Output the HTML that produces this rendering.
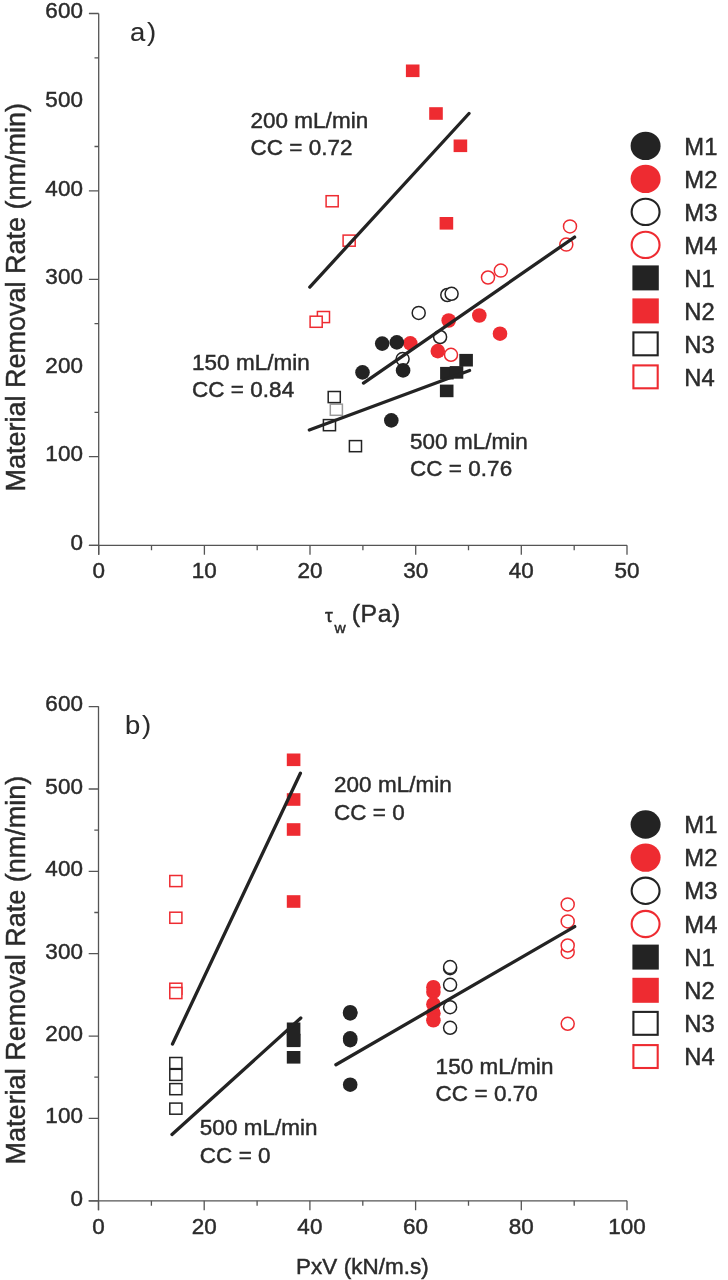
<!DOCTYPE html>
<html><head><meta charset="utf-8"><title>Material Removal Rate</title>
<style>
html,body{margin:0;padding:0;background:#fff;}
body{width:728px;height:1280px;overflow:hidden;}
svg{display:block;filter:blur(0.65px);}
text{font-family:"Liberation Sans",sans-serif;fill:#2b2b2b;stroke:#2b2b2b;stroke-width:0.45px;}
.t{font-size:21.7px;letter-spacing:0.05px;}
.sub{font-size:15px;}
.lg{font-size:23px;letter-spacing:0.2px;}
.pa{font-size:24px;letter-spacing:0.5px;}
.pl{font-size:26.5px;letter-spacing:1.6px;stroke-width:0.1px;}
.yl{font-size:27px;}
</style></head>
<body>
<svg width="728" height="1280" viewBox="0 0 728 1280">
<rect width="728" height="1280" fill="#fff"/>
<path d="M98.7 13.5V554.8M88.9 545.3H627.0" stroke="#555555" stroke-width="1.3" fill="none"/>
<path d="M88.9 545.3H98.7M88.9 456.7H98.7M88.9 279.4H98.7M88.9 190.8H98.7M88.9 13.5H98.7M94.5 412.4H98.7M94.5 323.7H98.7M94.5 146.5H98.7M94.5 57.8H98.7M98.7 545.3V554.8M204.4 545.3V554.8M310.0 545.3V554.8M415.7 545.3V554.8M521.3 545.3V554.8M627.0 545.3V554.8M151.5 545.3V550.3M257.2 545.3V550.3M362.9 545.3V550.3M468.5 545.3V550.3M574.2 545.3V550.3" stroke="#555555" stroke-width="1.3" fill="none"/>
<text transform="translate(83.00 550.10) scale(1.035 1)" class="t" text-anchor="end">0</text>
<text transform="translate(83.00 461.47) scale(1.035 1)" class="t" text-anchor="end">100</text>
<text transform="translate(83.00 372.83) scale(1.035 1)" class="t" text-anchor="end">200</text>
<text transform="translate(83.00 284.20) scale(1.035 1)" class="t" text-anchor="end">300</text>
<text transform="translate(83.00 195.57) scale(1.035 1)" class="t" text-anchor="end">400</text>
<text transform="translate(83.00 106.93) scale(1.035 1)" class="t" text-anchor="end">500</text>
<text transform="translate(83.00 18.30) scale(1.035 1)" class="t" text-anchor="end">600</text>
<text transform="translate(98.70 578.30) scale(1.035 1)" class="t" text-anchor="middle">0</text>
<text transform="translate(204.36 578.30) scale(1.035 1)" class="t" text-anchor="middle">10</text>
<text transform="translate(310.02 578.30) scale(1.035 1)" class="t" text-anchor="middle">20</text>
<text transform="translate(415.68 578.30) scale(1.035 1)" class="t" text-anchor="middle">30</text>
<text transform="translate(521.34 578.30) scale(1.035 1)" class="t" text-anchor="middle">40</text>
<text transform="translate(627.00 578.30) scale(1.035 1)" class="t" text-anchor="middle">50</text>
<rect x="326.1" y="195.7" width="12.1" height="11.1" fill="#fff" stroke="#ee2b31" stroke-width="1.5"/>
<rect x="343.1" y="235.1" width="12.1" height="11.1" fill="#fff" stroke="#ee2b31" stroke-width="1.5"/>
<rect x="317.4" y="311.5" width="12.1" height="11.1" fill="#fff" stroke="#ee2b31" stroke-width="1.5"/>
<rect x="310.1" y="316.2" width="12.1" height="11.1" fill="#fff" stroke="#ee2b31" stroke-width="1.5"/>
<rect x="330.3" y="404.2" width="12.1" height="11.1" fill="#fff" stroke="#9a9a9a" stroke-width="1.5"/>
<rect x="328.2" y="391.5" width="12.1" height="11.1" fill="#fff" stroke="#232323" stroke-width="1.5"/>
<rect x="323.4" y="419.6" width="12.1" height="11.1" fill="#fff" stroke="#232323" stroke-width="1.5"/>
<rect x="349.4" y="440.6" width="12.1" height="11.1" fill="#fff" stroke="#232323" stroke-width="1.5"/>
<rect x="405.9" y="64.5" width="13.6" height="12.6" fill="#ee2b31"/>
<rect x="429.2" y="107.2" width="13.6" height="12.6" fill="#ee2b31"/>
<rect x="453.6" y="139.5" width="13.6" height="12.6" fill="#ee2b31"/>
<rect x="439.6" y="217.0" width="13.6" height="12.6" fill="#ee2b31"/>
<rect x="459.3" y="353.9" width="13.6" height="12.6" fill="#232323"/>
<rect x="440.1" y="366.9" width="13.6" height="12.6" fill="#232323"/>
<rect x="449.7" y="366.1" width="13.6" height="12.6" fill="#232323"/>
<rect x="439.9" y="384.6" width="13.6" height="12.6" fill="#232323"/>
<ellipse cx="451.0" cy="354.8" rx="6.50" ry="6.50" fill="#fff" stroke="#ee2b31" stroke-width="1.5"/>
<ellipse cx="488.0" cy="277.5" rx="6.50" ry="6.50" fill="#fff" stroke="#ee2b31" stroke-width="1.5"/>
<ellipse cx="500.8" cy="270.6" rx="6.50" ry="6.50" fill="#fff" stroke="#ee2b31" stroke-width="1.5"/>
<ellipse cx="566.3" cy="244.6" rx="6.50" ry="6.50" fill="#fff" stroke="#ee2b31" stroke-width="1.5"/>
<ellipse cx="570.0" cy="226.4" rx="6.50" ry="6.50" fill="#fff" stroke="#ee2b31" stroke-width="1.5"/>
<ellipse cx="418.7" cy="312.9" rx="6.50" ry="6.50" fill="#fff" stroke="#232323" stroke-width="1.5"/>
<ellipse cx="447.3" cy="295.0" rx="6.50" ry="6.50" fill="#fff" stroke="#232323" stroke-width="1.5"/>
<ellipse cx="451.6" cy="293.8" rx="6.50" ry="6.50" fill="#fff" stroke="#232323" stroke-width="1.5"/>
<ellipse cx="440.1" cy="337.0" rx="6.50" ry="6.50" fill="#fff" stroke="#232323" stroke-width="1.5"/>
<ellipse cx="402.6" cy="359.1" rx="6.50" ry="6.50" fill="#fff" stroke="#232323" stroke-width="1.5"/>
<ellipse cx="410.3" cy="343.4" rx="7.30" ry="7.30" fill="#ee2b31"/>
<ellipse cx="437.8" cy="351.1" rx="7.30" ry="7.30" fill="#ee2b31"/>
<ellipse cx="448.7" cy="320.5" rx="7.30" ry="7.30" fill="#ee2b31"/>
<ellipse cx="479.3" cy="315.5" rx="7.30" ry="7.30" fill="#ee2b31"/>
<ellipse cx="500.0" cy="333.7" rx="7.30" ry="7.30" fill="#ee2b31"/>
<ellipse cx="362.5" cy="372.4" rx="7.30" ry="7.30" fill="#232323"/>
<ellipse cx="382.2" cy="343.6" rx="7.30" ry="7.30" fill="#232323"/>
<ellipse cx="396.8" cy="342.4" rx="7.30" ry="7.30" fill="#232323"/>
<ellipse cx="403.1" cy="370.4" rx="7.30" ry="7.30" fill="#232323"/>
<ellipse cx="391.3" cy="420.4" rx="7.30" ry="7.30" fill="#232323"/>
<line x1="309.8" y1="287.1" x2="469.0" y2="113.5" stroke="#232323" stroke-width="3.3" stroke-linecap="round"/>
<line x1="363.5" y1="383.1" x2="574.6" y2="237.1" stroke="#232323" stroke-width="3.3" stroke-linecap="round"/>
<line x1="309.3" y1="430.0" x2="469.6" y2="370.5" stroke="#232323" stroke-width="3.3" stroke-linecap="round"/>
<text transform="translate(250.40 128.00) scale(1.035 1)" class="t">200 mL/min</text><text transform="translate(250.40 155.30) scale(1.035 1)" class="t">CC = 0.72</text>
<text transform="translate(192.00 369.80) scale(1.035 1)" class="t">150 mL/min</text><text transform="translate(192.00 397.10) scale(1.035 1)" class="t">CC = 0.84</text>
<text transform="translate(410.00 448.80) scale(1.035 1)" class="t">500 mL/min</text><text transform="translate(410.00 476.10) scale(1.035 1)" class="t">CC = 0.76</text>
<text transform="translate(130.00 41.30) scale(1.035 1)" class="pl">a)</text>
<text transform="translate(24.5 297.2) rotate(-90)" text-anchor="middle" class="yl">Material Removal Rate (nm/min)</text>
<text transform="translate(325.00 622.40) scale(1.035 1)" class="t" style="font-size:19px">τ</text>
<text transform="translate(334.60 632.80) scale(1.035 1)" class="sub">w</text>
<text transform="translate(351.80 622.00) scale(1.035 1)" class="pa">(Pa)</text>
<ellipse cx="645.6" cy="145.9" rx="15.00" ry="14.20" fill="#232323"/>
<text transform="translate(684.20 154.50) scale(1.035 1)" class="lg">M1</text>
<ellipse cx="645.6" cy="178.9" rx="15.00" ry="14.20" fill="#ee2b31"/>
<text transform="translate(684.20 187.50) scale(1.035 1)" class="lg">M2</text>
<ellipse cx="645.6" cy="211.9" rx="13.95" ry="13.15" fill="#fff" stroke="#232323" stroke-width="2.1"/>
<text transform="translate(684.20 220.50) scale(1.035 1)" class="lg">M3</text>
<ellipse cx="645.6" cy="244.9" rx="13.95" ry="13.15" fill="#fff" stroke="#ee2b31" stroke-width="2.1"/>
<text transform="translate(684.20 253.50) scale(1.035 1)" class="lg">M4</text>
<rect x="632.4" y="265.4" width="26.4" height="25.0" fill="#232323"/>
<text transform="translate(684.20 286.50) scale(1.035 1)" class="lg">N1</text>
<rect x="632.4" y="298.4" width="26.4" height="25.0" fill="#ee2b31"/>
<text transform="translate(684.20 319.50) scale(1.035 1)" class="lg">N2</text>
<rect x="633.4" y="332.4" width="24.3" height="22.9" fill="#fff" stroke="#232323" stroke-width="2.1"/>
<text transform="translate(684.20 352.50) scale(1.035 1)" class="lg">N3</text>
<rect x="633.4" y="365.4" width="24.3" height="22.9" fill="#fff" stroke="#ee2b31" stroke-width="2.1"/>
<text transform="translate(684.20 385.50) scale(1.035 1)" class="lg">N4</text>
<path d="M98.5 706.2V1210.3M88.7 1200.8H627.0" stroke="#555555" stroke-width="1.3" fill="none"/>
<path d="M88.7 1200.8H98.5M88.7 1118.4H98.5M88.7 1036.1H98.5M88.7 953.7H98.5M88.7 871.3H98.5M88.7 789.0H98.5M88.7 706.6H98.5M94.3 1077.2H98.5M94.3 912.5H98.5M94.3 830.1H98.5M98.5 1200.8V1210.3M204.2 1200.8V1210.3M309.9 1200.8V1210.3M415.6 1200.8V1210.3M521.3 1200.8V1210.3M627.0 1200.8V1210.3M151.4 1200.8V1205.8M257.1 1200.8V1205.8M362.8 1200.8V1205.8M468.5 1200.8V1205.8M574.2 1200.8V1205.8" stroke="#555555" stroke-width="1.3" fill="none"/>
<text transform="translate(83.00 1205.60) scale(1.035 1)" class="t" text-anchor="end">0</text>
<text transform="translate(83.00 1123.23) scale(1.035 1)" class="t" text-anchor="end">100</text>
<text transform="translate(83.00 1040.87) scale(1.035 1)" class="t" text-anchor="end">200</text>
<text transform="translate(83.00 958.50) scale(1.035 1)" class="t" text-anchor="end">300</text>
<text transform="translate(83.00 876.13) scale(1.035 1)" class="t" text-anchor="end">400</text>
<text transform="translate(83.00 793.76) scale(1.035 1)" class="t" text-anchor="end">500</text>
<text transform="translate(83.00 711.40) scale(1.035 1)" class="t" text-anchor="end">600</text>
<text transform="translate(98.50 1233.80) scale(1.035 1)" class="t" text-anchor="middle">0</text>
<text transform="translate(204.21 1233.80) scale(1.035 1)" class="t" text-anchor="middle">20</text>
<text transform="translate(309.91 1233.80) scale(1.035 1)" class="t" text-anchor="middle">40</text>
<text transform="translate(415.62 1233.80) scale(1.035 1)" class="t" text-anchor="middle">60</text>
<text transform="translate(521.32 1233.80) scale(1.035 1)" class="t" text-anchor="middle">80</text>
<text transform="translate(627.03 1233.80) scale(1.035 1)" class="t" text-anchor="middle">100</text>
<rect x="169.8" y="875.5" width="12.1" height="11.1" fill="#fff" stroke="#ee2b31" stroke-width="1.5"/>
<rect x="169.8" y="912.2" width="12.1" height="11.1" fill="#fff" stroke="#ee2b31" stroke-width="1.5"/>
<rect x="169.8" y="983.2" width="12.1" height="11.1" fill="#fff" stroke="#ee2b31" stroke-width="1.5"/>
<rect x="169.8" y="987.5" width="12.1" height="11.1" fill="#fff" stroke="#ee2b31" stroke-width="1.5"/>
<rect x="169.8" y="1069.3" width="12.1" height="11.1" fill="#fff" stroke="#232323" stroke-width="1.5"/>
<rect x="169.8" y="1057.5" width="12.1" height="11.1" fill="#fff" stroke="#232323" stroke-width="1.5"/>
<rect x="169.8" y="1083.6" width="12.1" height="11.1" fill="#fff" stroke="#232323" stroke-width="1.5"/>
<rect x="169.8" y="1103.1" width="12.1" height="11.1" fill="#fff" stroke="#232323" stroke-width="1.5"/>
<rect x="286.8" y="753.5" width="13.6" height="12.6" fill="#ee2b31"/>
<rect x="286.8" y="793.2" width="13.6" height="12.6" fill="#ee2b31"/>
<rect x="286.8" y="823.2" width="13.6" height="12.6" fill="#ee2b31"/>
<rect x="286.8" y="895.2" width="13.6" height="12.6" fill="#ee2b31"/>
<rect x="286.8" y="1022.5" width="13.6" height="12.6" fill="#232323"/>
<rect x="286.8" y="1034.5" width="13.6" height="12.6" fill="#232323"/>
<rect x="286.8" y="1033.8" width="13.6" height="12.6" fill="#232323"/>
<rect x="286.8" y="1051.0" width="13.6" height="12.6" fill="#232323"/>
<ellipse cx="567.7" cy="1023.8" rx="6.50" ry="6.50" fill="#fff" stroke="#ee2b31" stroke-width="1.5"/>
<ellipse cx="567.7" cy="951.9" rx="6.50" ry="6.50" fill="#fff" stroke="#ee2b31" stroke-width="1.5"/>
<ellipse cx="567.7" cy="945.5" rx="6.50" ry="6.50" fill="#fff" stroke="#ee2b31" stroke-width="1.5"/>
<ellipse cx="567.7" cy="921.4" rx="6.50" ry="6.50" fill="#fff" stroke="#ee2b31" stroke-width="1.5"/>
<ellipse cx="567.7" cy="904.4" rx="6.50" ry="6.50" fill="#fff" stroke="#ee2b31" stroke-width="1.5"/>
<ellipse cx="450.1" cy="984.8" rx="6.50" ry="6.50" fill="#fff" stroke="#232323" stroke-width="1.5"/>
<ellipse cx="450.1" cy="968.2" rx="6.50" ry="6.50" fill="#fff" stroke="#232323" stroke-width="1.5"/>
<ellipse cx="450.1" cy="967.1" rx="6.50" ry="6.50" fill="#fff" stroke="#232323" stroke-width="1.5"/>
<ellipse cx="450.1" cy="1007.2" rx="6.50" ry="6.50" fill="#fff" stroke="#232323" stroke-width="1.5"/>
<ellipse cx="450.1" cy="1027.8" rx="6.50" ry="6.50" fill="#fff" stroke="#232323" stroke-width="1.5"/>
<ellipse cx="433.4" cy="1013.2" rx="7.30" ry="7.30" fill="#ee2b31"/>
<ellipse cx="433.4" cy="1020.3" rx="7.30" ry="7.30" fill="#ee2b31"/>
<ellipse cx="433.4" cy="991.9" rx="7.30" ry="7.30" fill="#ee2b31"/>
<ellipse cx="433.4" cy="987.2" rx="7.30" ry="7.30" fill="#ee2b31"/>
<ellipse cx="433.4" cy="1004.2" rx="7.30" ry="7.30" fill="#ee2b31"/>
<ellipse cx="350.2" cy="1040.1" rx="7.30" ry="7.30" fill="#232323"/>
<ellipse cx="350.2" cy="1013.4" rx="7.30" ry="7.30" fill="#232323"/>
<ellipse cx="350.2" cy="1012.2" rx="7.30" ry="7.30" fill="#232323"/>
<ellipse cx="350.2" cy="1038.3" rx="7.30" ry="7.30" fill="#232323"/>
<ellipse cx="350.2" cy="1084.7" rx="7.30" ry="7.30" fill="#232323"/>
<line x1="172.5" y1="1044.0" x2="300.4" y2="773.2" stroke="#232323" stroke-width="3.3" stroke-linecap="round"/>
<line x1="172.0" y1="1134.5" x2="300.8" y2="1018.0" stroke="#232323" stroke-width="3.3" stroke-linecap="round"/>
<line x1="335.9" y1="1064.7" x2="574.7" y2="926.6" stroke="#232323" stroke-width="3.3" stroke-linecap="round"/>
<text transform="translate(334.00 792.30) scale(1.035 1)" class="t">200 mL/min</text><text transform="translate(334.00 819.60) scale(1.035 1)" class="t">CC = 0</text>
<text transform="translate(435.60 1074.00) scale(1.035 1)" class="t">150 mL/min</text><text transform="translate(435.60 1101.30) scale(1.035 1)" class="t">CC = 0.70</text>
<text transform="translate(199.80 1135.20) scale(1.035 1)" class="t">500 mL/min</text><text transform="translate(199.80 1162.50) scale(1.035 1)" class="t">CC = 0</text>
<text transform="translate(125.00 734.30) scale(1.035 1)" class="pl">b)</text>
<text transform="translate(24.5 970.1) rotate(-90)" text-anchor="middle" class="yl">Material Removal Rate (nm/min)</text>
<text transform="translate(296.00 1274.00) scale(1.035 1)" class="t">PxV (kN/m.s)</text>
<ellipse cx="645.6" cy="824.5" rx="15.00" ry="14.20" fill="#232323"/>
<text transform="translate(684.20 833.10) scale(1.035 1)" class="lg">M1</text>
<ellipse cx="645.6" cy="857.6" rx="15.00" ry="14.20" fill="#ee2b31"/>
<text transform="translate(684.20 866.25) scale(1.035 1)" class="lg">M2</text>
<ellipse cx="645.6" cy="890.8" rx="13.95" ry="13.15" fill="#fff" stroke="#232323" stroke-width="2.1"/>
<text transform="translate(684.20 899.40) scale(1.035 1)" class="lg">M3</text>
<ellipse cx="645.6" cy="924.0" rx="13.95" ry="13.15" fill="#fff" stroke="#ee2b31" stroke-width="2.1"/>
<text transform="translate(684.20 932.55) scale(1.035 1)" class="lg">M4</text>
<rect x="632.4" y="944.6" width="26.4" height="25.0" fill="#232323"/>
<text transform="translate(684.20 965.70) scale(1.035 1)" class="lg">N1</text>
<rect x="632.4" y="977.8" width="26.4" height="25.0" fill="#ee2b31"/>
<text transform="translate(684.20 998.85) scale(1.035 1)" class="lg">N2</text>
<rect x="633.4" y="1011.9" width="24.3" height="22.9" fill="#fff" stroke="#232323" stroke-width="2.1"/>
<text transform="translate(684.20 1032.00) scale(1.035 1)" class="lg">N3</text>
<rect x="633.4" y="1045.1" width="24.3" height="22.9" fill="#fff" stroke="#ee2b31" stroke-width="2.1"/>
<text transform="translate(684.20 1065.15) scale(1.035 1)" class="lg">N4</text>
</svg>
</body></html>
